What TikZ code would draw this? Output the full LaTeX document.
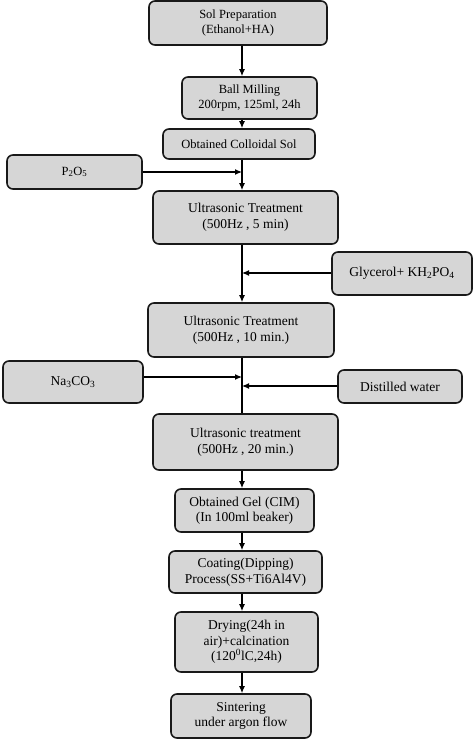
\documentclass[tikz,border=0pt]{standalone}
\usepackage{fontspec}
\setmainfont{Liberation Serif}
\usepackage{tikz}
\usetikzlibrary{arrows.meta,positioning}
\definecolor{boxgray}{gray}{0.84}
\tikzset{
    stage/.style={draw=black!90, fill=boxgray, line width=1.6pt, rounded corners=6pt,
        align=center, inner sep=0pt, font=\fontsize{13.5}{15.5}\selectfont},
    small/.style={font=\fontsize{12.5}{14.5}\selectfont},
    flow/.style={line width=1.2pt, -{Latex[length=7pt,width=6pt]}},
    link/.style={line width=1.2pt}
}
\begin{document}
\begin{tikzpicture}[x=1pt,y=-1pt]
    \useasboundingbox (0,0) rectangle (474,752);
    % main process column
    \node[stage,small,minimum width=178pt,minimum height=44pt] (prep) at (238,23) {Sol Preparation\\(Ethanol+HA)};
    \node[stage,small,minimum width=135pt,minimum height=42pt] (mill) at (249.5,98) {Ball Milling\\200rpm, 125ml, 24h};
    \node[stage,small,minimum width=152pt,minimum height=30pt] (sol) at (239,144) {Obtained Colloidal Sol};
    \node[stage,minimum width=185pt,minimum height=53pt] (us1) at (245.5,217.5) {Ultrasonic Treatment\\(500Hz , 5 min)};
    \node[stage,minimum width=186pt,minimum height=54pt] (us2) at (241,330) {Ultrasonic Treatment\\(500Hz , 10 min.)};
    \node[stage,minimum width=185pt,minimum height=56pt] (us3) at (245.5,442) {Ultrasonic treatment\\(500Hz , 20 min.)};
    \node[stage,minimum width=139pt,minimum height=43pt] (gel) at (244.5,510.5) {Obtained Gel (CIM)\\(In 100ml beaker)};
    \node[stage,minimum width=153pt,minimum height=42pt] (coat) at (245.5,572) {Coating(Dipping)\\Process(SS+Ti6Al4V)};
    \node[stage,minimum width=143pt,minimum height=60pt] (dry) at (246.5,642) {Drying(24h in\\air)+calcination\\(120\textsuperscript{0}lC,24h)};
    \node[stage,minimum width=140pt,minimum height=44pt] (sinter) at (241,716) {Sintering\\under argon flow};
    % additives
    \node[stage,small,minimum width=135pt,minimum height=34pt] (ppo) at (74.5,172) {P\textsubscript{2}O\textsubscript{5}};
    \node[stage,minimum width=140pt,minimum height=43pt] (glyc) at (402,273.5) {Glycerol+ KH\textsubscript{2}PO\textsubscript{4}};
    \node[stage,minimum width=140pt,minimum height=42pt] (naco) at (73,382) {Na\textsubscript{3}CO\textsubscript{3}};
    \node[stage,minimum width=124pt,minimum height=33pt] (water) at (400,386.5) {Distilled water};
    % junctions on the main line
    \coordinate (axis) at (242,0);
    \coordinate (j1) at (242,172);
    \coordinate (j2) at (242,273);
    \coordinate (j3) at (242,377);
    \coordinate (j4) at (242,386);

    \draw[flow] (prep.south -| axis) -- (mill.north -| axis);
    \draw[flow] (mill.south -| axis) -- (sol.north -| axis);
    \draw[flow] (sol.south -| axis) -- (us1.north -| axis);
    \draw[flow] (us1.south -| axis) -- (us2.north -| axis);
    \draw[link] (us2.south -| axis) -- (us3.north -| axis);
    \draw[flow] (us3.south -| axis) -- (gel.north -| axis);
    \draw[flow] (gel.south -| axis) -- (coat.north -| axis);
    \draw[flow] (coat.south -| axis) -- (dry.north -| axis);
    \draw[flow] (dry.south -| axis) -- (sinter.north -| axis);

    \draw[flow] (ppo.east |- j1) -- (j1);
    \draw[flow] (glyc.west |- j2) -- (j2);
    \draw[flow] (naco.east |- j3) -- (j3);
    \draw[flow] (water.west |- j4) -- (j4);
\end{tikzpicture}
\end{document}
